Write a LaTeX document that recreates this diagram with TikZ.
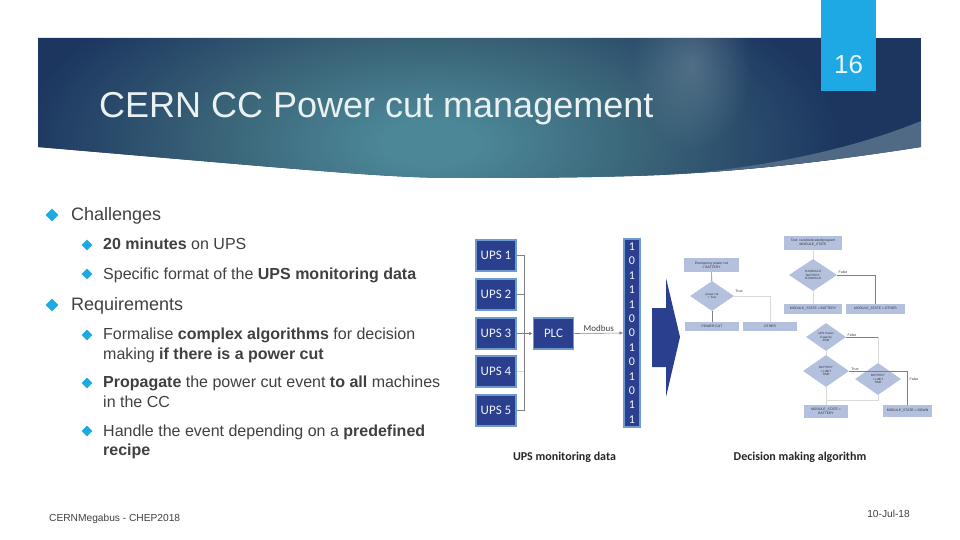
\documentclass[tikz,border=0pt]{standalone}
\usepackage{fontspec}
\setmainfont{Liberation Sans}
\newfontfamily\carl{Carlito}
\usetikzlibrary{shapes.geometric,arrows.meta,fadings}
\definecolor{deepb}{HTML}{1C3660}
\definecolor{tealb}{HTML}{4B8797}
\definecolor{midb}{HTML}{3A6478}
\definecolor{swoosh}{HTML}{506A86}
\definecolor{tabb}{HTML}{1FA9E4}
\definecolor{bodyt}{HTML}{404040}
\definecolor{upsfill}{HTML}{2B3F8F}
\definecolor{upsline}{HTML}{6D9BD0}
\definecolor{flowb}{HTML}{B4C1DE}
\definecolor{lineg}{HTML}{808080}
\definecolor{linel}{HTML}{DADADA}
\pgfdeclareradialshading{bannershade}{\pgfpoint{0bp}{0bp}}{
 color(0bp)=(tealb); color(3bp)=(tealb); color(13bp)=(midb); color(25bp)=(deepb); color(50bp)=(deepb)}
\tikzfading[name=spotfade, inner color=transparent!60, outer color=transparent!100]
\tikzset{
 x=1pt,y=-1pt,
 lvlone/.style={anchor=base west,inner sep=0pt,font=\fontsize{18}{19}\selectfont,text=bodyt},
 lvltwo/.style={anchor=north west,inner sep=0pt,align=left,font=\fontsize{16}{19.5}\selectfont,text=bodyt},
 bulone/.style={diamond,aspect=1,fill=tabb,inner sep=0pt,minimum size=13pt},
 bultwo/.style={diamond,aspect=1,fill=tabb,inner sep=0pt,minimum size=11pt},
 upsbox/.style={rectangle,fill=upsfill,draw=upsline,line width=1.8pt,minimum width=40pt,minimum height=31pt,inner sep=0pt,text=white!88!upsline,font=\carl\fontsize{13}{14}\selectfont},
 bitbox/.style={rectangle,fill=upsfill,draw=upsline,line width=1.8pt,minimum width=16pt,minimum height=188pt,inner sep=0pt,text=white!92!upsline,align=center,font=\carl\fontsize{12}{14.4}\selectfont},
 flowbox/.style={rectangle,fill=flowb,inner sep=0pt,text=bodyt!80!black,align=center,font=\fontsize{3.4}{4}\selectfont},
 flowdia/.style={diamond,fill=flowb,inner sep=0pt,text=bodyt!80!black,align=center,font=\fontsize{3}{3.6}\selectfont},
 tinylab/.style={inner sep=0pt,text=bodyt,font=\fontsize{3.6}{4}\selectfont},
 capt/.style={inner sep=0pt,font=\carl\bfseries\fontsize{12}{13}\selectfont,text=black!85},
 conn/.style={draw=lineg,line width=0.6pt},
 connl/.style={draw=linel,line width=0.5pt},
 foot/.style={inner sep=0pt,text=bodyt,font=\fontsize{10.2}{11}\selectfont},
}
\begin{document}
\begin{tikzpicture}
\useasboundingbox (0,0) rectangle (960,540);
\fill[white] (0,0) rectangle (960,540);
% banner
\begin{scope}
\clip (38,38) -- (921,38) -- (921,147) .. controls (800,166) and (720,172) .. (660,175) .. controls (590,178) and (500,178) .. (450,178) .. controls (380,177) and (330,172) .. (38,147) -- cycle;
\fill[deepb] (38,38) rectangle (921,180);
\shade[shading=bannershade] (20,-47) rectangle (840,333);
\fill[white!40!midb,path fading=spotfade] (632,-20) rectangle (752,150);
\fill[swoosh] (921,121) .. controls (850,150) and (770,165) .. (695,173) -- (695,185) -- (921,185) -- cycle;
\end{scope}
\fill[tabb] (821,0) rectangle (876,91);
\node[inner sep=0pt,text=white!90!tabb,font=\fontsize{26}{28}\selectfont] (pagenum) at (848.5,65) {16};
\node[anchor=base west,inner sep=0pt,text=white!88!tealb,font=\fontsize{36}{38}\selectfont] (title) at (99,118) {CERN CC Power cut management};
% body
\node[bulone] (b1) at (52,215) {};
\node[lvlone] (t1) at (71,220) {Challenges};
\node[bultwo] (b2) at (87,245) {};
\node[lvltwo] (t2) at (103,238) {\textbf{20 minutes} on UPS};
\node[bultwo] (b3) at (87,274) {};
\node[lvltwo] (t3) at (103,267.5) {Specific format of the \textbf{UPS monitoring data}};
\node[bulone] (b4) at (52,305) {};
\node[lvlone] (t4) at (71,310) {Requirements};
\node[bultwo] (b5) at (87,335) {};
\node[lvltwo] (t5) at (103,328) {Formalise \textbf{complex algorithms} for decision\\making \textbf{if there is a power cut}};
\node[bultwo] (b6) at (87,383) {};
\node[lvltwo] (t6) at (103,376) {\textbf{Propagate} the power cut event \textbf{to all} machines\\in the CC};
\node[bultwo] (b7) at (87,431) {};
\node[lvltwo] (t7) at (103,424.5) {Handle the event depending on a \textbf{predefined}\\\textbf{recipe}};
% UPS diagram
\node[upsbox] (u1) at (496,255.5) {UPS 1};
\node[upsbox] (u2) at (496,294.5) {UPS 2};
\node[upsbox] (u3) at (496,333.5) {UPS 3};
\node[upsbox] (u4) at (496,371.5) {UPS 4};
\node[upsbox] (u5) at (496,410.5) {UPS 5};
\node[upsbox] (plc) at (553.5,333.5) {PLC};
\node[bitbox] (bits) at (632,333) {1\\0\\1\\1\\1\\0\\0\\1\\0\\1\\0\\1\\1};
\coordinate (bustop) at (524,255.5);
\coordinate (busbot) at (524,410.5);
\coordinate (bustwo) at (524,294.5);
\coordinate (busfour) at (524,371.5);
\draw[conn] (u1.east) -- (bustop) -- (busbot) -- (u5.east);
\draw[conn] (u2.east) -- (bustwo);
\draw[connl] (u4.east) -- (busfour);
\draw[conn,-{Latex[length=3.5pt,width=3.5pt]}] (u3.east) -- (plc.west);
\draw[conn,-{Latex[length=3.5pt,width=3.5pt]}] (plc.east) -- (bits.west) node[midway,above=1.5pt,inner sep=0pt,text=bodyt,font=\carl\fontsize{9}{10}\selectfont] (modbus) {Modbus};
\fill[upsfill] (652,308) -- (666,308) -- (666,278) -- (680,337) -- (666,397) -- (666,367) -- (652,367) -- cycle;
\node[capt] (cap1) at (564.5,457) {UPS monitoring data};
\node[capt] (cap2) at (800,457) {Decision making algorithm};
% flowchart
\node[flowbox,minimum width=58pt,minimum height=14pt] (f1) at (813,243) {Test: rack/dedicated/program\\MODULE\_STATE};
\node[flowbox,minimum width=55pt,minimum height=14pt] (f2) at (711.5,265) {Emergency power cut\\= BATTERY};
\node[flowdia,minimum width=44pt,minimum height=30pt] (d1) at (712,296) {power cut\\= True};
\node[flowbox,minimum width=54pt,minimum height=9pt] (f3) at (712,326.5) {POWER CUT};
\node[flowbox,minimum width=54pt,minimum height=9pt] (f4) at (770,326.5) {OTHER};
\node[flowdia,minimum width=48pt,minimum height=32pt] (d2) at (813,275) {IS MODULE\\BATTERY\\IS MODULE};
\node[flowbox,minimum width=58pt,minimum height=10pt] (f5) at (813,309) {MODULE\_STATE = BATTERY};
\node[flowbox,minimum width=59pt,minimum height=10pt] (f6) at (875.5,309) {MODULE\_STATE = OTHER};
\node[flowdia,minimum width=40pt,minimum height=28pt] (d3) at (826,337) {UPS Power\\Capacity\\3000};
\node[flowdia,minimum width=46pt,minimum height=32pt] (d4) at (826,371) {BATTERY\\= LIMIT\\TIME};
\node[flowdia,minimum width=46pt,minimum height=32pt] (d5) at (878,379) {BATTERY\\= LIMIT\\TIME};
\node[flowbox,minimum width=44pt,minimum height=13pt] (f7) at (826,411.5) {MODULE\_STATE =\\BATTERY};
\node[flowbox,minimum width=49pt,minimum height=12pt] (f8) at (907.5,411) {MODULE\_STATE = DOWN};
\coordinate (ca) at (770,296);
\coordinate (cb) at (875,275);
\coordinate (cc) at (878,337);
\coordinate (cd) at (907.5,371);
\coordinate (ce) at (878,400.5);
\coordinate (cf) at (826,400.5);
\draw[conn] (f2) -- (d1);
\draw[conn] (d1) -- (f3);
\draw[connl] (d1) -- (ca) -- (f4);
\draw[connl] (f1) -- (d2);
\draw[connl] (d2) -- (f5);
\draw[conn] (d2) -- (cb);
\draw[conn] (cb) -- (cb |- f6.north);
\draw[conn] (d3) -- (cc);
\draw[connl] (cc) -- (d5);
\draw[connl] (d3) -- (d4);
\draw[connl] (d4) -- (f7);
\draw[connl] (d5) -- (ce) -- (cf);
\draw[conn] (d4) -- (cd) -- (f8);
\node[tinylab] (l1) at (739,291) {True};
\node[tinylab] (l2) at (843,272) {False};
\node[tinylab] (l3) at (852,335) {False};
\node[tinylab] (l4) at (855,369) {True};
\node[tinylab] (l5) at (914,379.5) {False};
% footer
\node[foot,anchor=base west] (foot1) at (49,521) {CERNMegabus - CHEP2018};
\node[foot,anchor=base east] (foot2) at (910,517) {10-Jul-18};
\end{tikzpicture}
\end{document}
